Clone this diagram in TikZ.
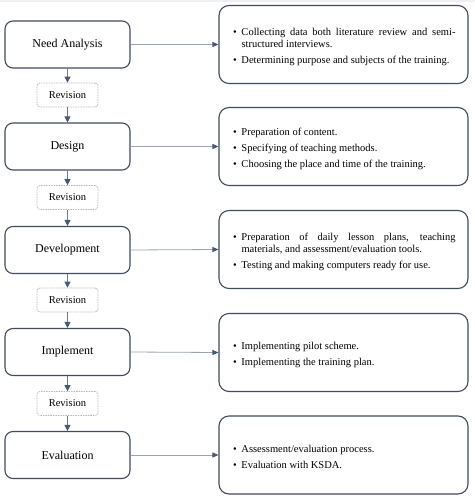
\documentclass[tikz,border=0pt]{standalone}
\usepackage{fontspec}
\setmainfont{Liberation Serif}
\usetikzlibrary{arrows.meta}
\definecolor{boxline}{HTML}{414B5C}
\definecolor{arrline}{HTML}{9AA3B2}
\definecolor{arrhead}{HTML}{4A5873}
\definecolor{revline}{HTML}{B4B8BE}
\definecolor{topband}{HTML}{EEF0F3}
\newcommand{\itm}[1]{\par\hangindent=10pt\hangafter=1\noindent\makebox[10pt][l]{\hspace{1.5pt}\textbullet}#1}
\tikzset{
  stage/.style={draw=boxline, line width=1.1pt, rounded corners=8pt, minimum width=125pt, minimum height=47pt, font=\fontsize{12}{14}\selectfont, inner sep=0pt},
  revbox/.style={draw=revline, dashed, dash pattern=on 1.5pt off 1pt, line width=0.7pt, rounded corners=3pt, minimum width=61pt, minimum height=24pt, font=\fontsize{10.5}{12}\selectfont, inner sep=0pt},
  infobox/.style={draw=boxline, line width=1.1pt, rounded corners=10pt, minimum width=249pt, minimum height=78pt, text width=224pt, inner xsep=12.5pt, inner ysep=0pt, align=justify, font=\fontsize{10.5}{12}\selectfont},
  harr/.style={draw=arrline, line width=0.8pt, -{Triangle[length=6pt,width=5pt,fill=arrhead,color=arrhead]}},
  varr/.style={draw=arrhead!80, line width=0.8pt, -{Triangle[length=6pt,width=6pt,fill=arrhead,color=arrhead]}}
}
\begin{document}
\begin{tikzpicture}[x=1pt,y=-1pt]
\useasboundingbox (0,0) rectangle (474,500);
\fill[topband] (0,0) rectangle (474,2.5);
% stages
\node[stage] (s1) at (67.5,44.5) {Need Analysis};
\node[stage] (s2) at (67.5,146.5) {Design};
\node[stage] (s3) at (67.5,250) {Development};
\node[stage] (s4) at (67.5,352) {Implement};
\node[stage] (s5) at (67.5,455) {Evaluation};
% revisions
\node[revbox] (r1) at (67.5,95) {Revision};
\node[revbox] (r2) at (67.5,197.5) {Revision};
\node[revbox] (r3) at (67.5,300) {Revision};
\node[revbox] (r4) at (67.5,403.5) {Revision};
% info boxes
\node[infobox] (i1) at (343.5,44.5) {\itm{Collecting data both literature review and semi-\linebreak structured interviews.}\par\vspace{4pt}\itm{Determining purpose and subjects of the training.}};
\node[infobox] (i2) at (343.5,146.5) {\itm{Preparation of content.}\par\vspace{4pt}\itm{Specifying of teaching methods.}\par\vspace{4pt}\itm{Choosing the place and time of the training.}};
\node[infobox] (i3) at (343.5,249.5) {\itm{Preparation of daily lesson plans, teaching\linebreak materials, and assessment/evaluation tools.}\par\vspace{4pt}\itm{Testing and making computers ready for use.}};
\node[infobox] (i4) at (343.5,352.5) {\itm{Implementing pilot scheme.}\par\vspace{4pt}\itm{Implementing the training plan.}};
\node[infobox] (i5) at (343.5,455) {\itm{Assessment/evaluation process.}\par\vspace{4pt}\itm{Evaluation with KSDA.}};
% horizontal arrows
\foreach \k in {1,...,5} \draw[harr] (s\k.east) -- (i\k.west);
% vertical arrows
\draw[varr] (s1) -- (r1);
\draw[varr] (r1) -- (s2);
\draw[varr] (s2) -- (r2);
\draw[varr] (r2) -- (s3);
\draw[varr] (s3) -- (r3);
\draw[varr] (r3) -- (s4);
\draw[varr] (s4) -- (r4);
\draw[varr] (r4) -- (s5);
\end{tikzpicture}
\end{document}
